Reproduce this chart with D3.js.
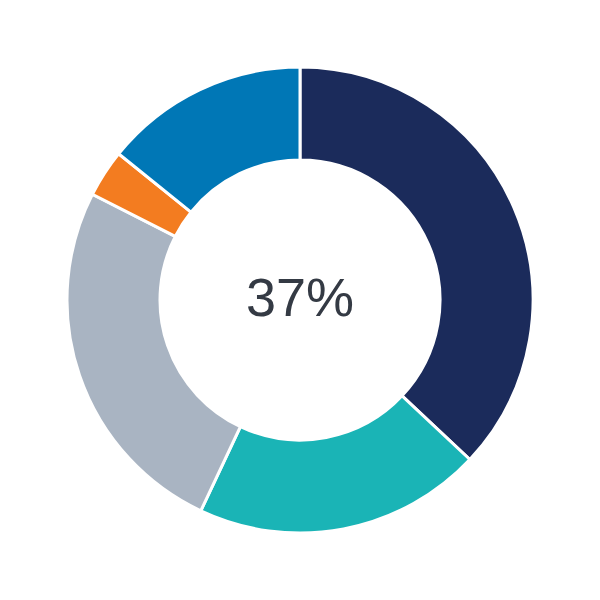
<!DOCTYPE html>
<html>
<head>
<meta charset="utf-8">
<script src="https://cdn.jsdelivr.net/npm/d3@7"></script>
<style>
  body { margin: 0; background: #fff; }
</style>
</head>
<body>
<div id="chart"></div>
<script>
// Chart data
var categories = ["A", "B", "C", "D", "E"];
var values = [37, 20, 25.5, 3.3, 14.2];
var colors = ["#1b2b5b", "#1ab4b6", "#a9b4c2", "#f37c20", "#0077b6"];
var centerLabel = "37%";

var svgWidth = 600;
var svgHeight = 600;
var outerRadius = 233;
var innerRadius = 140;

var svg = d3.select("#chart")
  .append("svg")
  .attr("width", svgWidth)
  .attr("height", svgHeight);

var chartGroup = svg.append("g")
  .attr("transform", `translate(${svgWidth / 2}, ${svgHeight / 2})`);

var pie = d3.pie()
  .sort(null)
  .value(d => d);

var arc = d3.arc()
  .innerRadius(innerRadius)
  .outerRadius(outerRadius);

chartGroup.selectAll("path")
  .data(pie(values))
  .enter()
  .append("path")
  .attr("d", arc)
  .attr("fill", (d, i) => colors[i])
  .attr("stroke", "#fff")
  .attr("stroke-width", 3);

// Center label
chartGroup.append("text")
  .attr("text-anchor", "middle")
  .attr("dy", "0.3em")
  .attr("font-family", "Liberation Sans, Arial, sans-serif")
  .attr("font-size", "54px")
  .attr("fill", "#343a44")
  .text(centerLabel);
</script>
</body>
</html>
